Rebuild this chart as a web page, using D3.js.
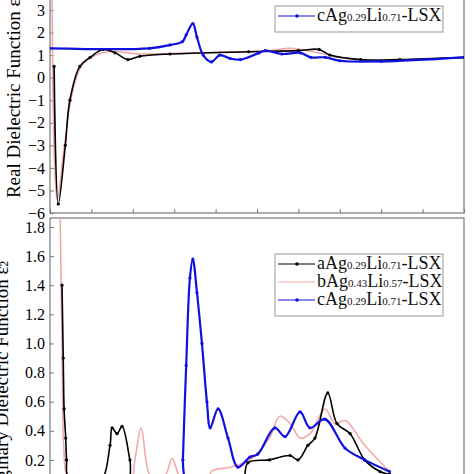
<!DOCTYPE html>
<html><head><meta charset="utf-8">
<script src="https://cdn.jsdelivr.net/npm/d3@7"></script>
<style>body{margin:0;background:#fff}text{font-family:"Liberation Serif",serif}</style>
</head><body>
<script>
// energy axis (no labels visible), 0..10
var xTicks = [0,1,2,3,4,5,6,7,8,9,10];
var realTicks = [-6,-5,-4,-3,-2,-1,0,1,2,3];
var imagTicks = [0.2,0.4,0.6,0.8,1.0,1.2,1.4,1.6,1.8];

// real part
var realA = [[0.1,0.5],[0.2,-5.6],[0.37,-3],[0.48,-1],[0.72,0.5],[0.97,0.9],[1.28,1.25],[1.57,1.1],[1.88,0.8],[2.17,0.95],[2.9,1.05],[4.8,1.15],[6.0,1.2],[6.5,1.25],[6.76,1.0],[7.5,0.8],[8.45,0.8],[10,0.9]];
var realB = [[0.05,3.5],[0.17,-5.4],[0.35,-3],[0.5,-1],[0.75,0.5],[1.0,0.9],[1.4,1.15],[2.2,1.05],[3.5,1.1],[5.3,1.2],[5.8,1.3],[6.5,1.1],[7.0,0.9],[7.5,0.8],[8.0,0.7],[8.7,0.8],[10,0.9]];
var realC = [[0,1.3],[2.4,1.3],[2.9,1.45],[3.2,1.6],[3.29,1.9],[3.45,2.4],[3.55,1.8],[3.7,1.0],[3.9,0.7],[4.1,1.0],[4.35,0.85],[4.6,0.8],[5.05,1.1],[5.2,1.2],[5.6,1.05],[6.05,1.1],[6.3,0.9],[6.65,0.9],[7.0,0.75],[8.0,0.72],[10,0.9]];

// imaginary part
var imagA = [[0.29,1.4],[0.32,0.9],[0.34,0.55],[0.38,0.35],[0.4,0.2],[0.45,0.08],[1.2,0.05],[1.45,0.3],[1.5,0.42],[1.62,0.38],[1.74,0.43],[1.93,0.2],[2.05,0.0],[4.6,0.0],[4.78,0.18],[5.3,0.2],[5.8,0.23],[5.99,0.2],[6.23,0.3],[6.4,0.35],[6.71,0.66],[6.93,0.45],[7.25,0.38],[7.6,0.2],[7.97,0.12],[8.2,0.1]];
var imagB = [[0.24,2.0],[0.29,1.0],[0.33,0.3],[0.4,0.1],[0.6,0.02],[1.9,0.02],[2.05,0.2],[2.2,0.42],[2.4,0.1],[2.6,0.05],[2.8,0.1],[2.95,0.21],[3.1,0.1],[3.3,0.0],[3.8,0.0],[3.9,0.12],[4.35,0.15],[4.83,0.2],[5.3,0.35],[5.55,0.5],[5.8,0.45],[6.04,0.35],[6.28,0.38],[6.64,0.55],[6.88,0.45],[7.13,0.47],[7.6,0.3],[8.2,0.12]];
var imagC = [[2.8,0.0],[3.2,0.0],[3.21,0.2],[3.29,0.85],[3.38,1.45],[3.45,1.58],[3.55,1.35],[3.67,1.0],[3.79,0.6],[3.87,0.42],[4.06,0.55],[4.3,0.35],[4.54,0.15],[4.83,0.22],[5.02,0.24],[5.43,0.42],[5.68,0.36],[6.04,0.53],[6.28,0.42],[6.64,0.48],[7.13,0.28],[7.6,0.2],[8.2,0.12]];

var series = [
  {name:"aAg", s1:"0.29", m:"Li", s2:"0.71", color:"#000", dots:true},
  {name:"bAg", s1:"0.43", m:"Li", s2:"0.57", color:"#f4a9a9", dots:false},
  {name:"cAg", s1:"0.29", m:"Li", s2:"0.71", color:"#1010e0", dots:true}
];

var W = 474, H = 474;
var svg = d3.select("body").append("svg").attr("width", W).attr("height", H);
var left = 50, right = 464;
var x = d3.scaleLinear().domain([0,10]).range([left, right]);
var yR = d3.scaleLinear().domain([-6,3]).range([213, 10]);
var yI = d3.scaleLinear().domain([0,1.8]).range([489, 227]);

function panel(y, top, bottom, ticks, fmt, datas, legendY, showAll) {
  var g = svg.append("g");
  var clipId = "c" + top;
  svg.append("clipPath").attr("id", clipId).append("rect")
     .attr("x", left).attr("y", top).attr("width", right-left).attr("height", bottom-top);
  g.append("rect").attr("x", left).attr("y", top).attr("width", right-left).attr("height", bottom-top)
   .attr("fill", "none").attr("stroke", "#777").attr("stroke-width", 1.2);
  g.append("g").attr("transform", "translate(" + left + ",0)")
   .call(d3.axisLeft(y).tickValues(ticks).tickFormat(fmt).tickSize(-4))
   .call(function(a){ a.select(".domain").remove(); a.selectAll("text").attr("x", -5).style("font-size","16px"); a.selectAll("line").attr("stroke","#777"); });
  g.append("g").attr("transform", "translate(0," + bottom + ")")
   .call(d3.axisBottom(x).tickValues(xTicks).tickFormat("").tickSize(-4))
   .call(function(a){ a.select(".domain").remove(); a.selectAll("line").attr("stroke","#777"); });
  var line2 = d3.line().curve(d3.curveCatmullRom).x(function(d){return x(d[0]);}).y(function(d){return y(d[1]);});
  var cg = g.append("g").attr("clip-path", "url(#" + clipId + ")");
  [1,0,2].forEach(function(i){
    var d = datas[i], s = series[i];
    cg.append("path").attr("d", line2(d)).attr("fill","none").attr("stroke", s.color)
      .attr("stroke-width", i==2 ? 2.2 : 1.6);
    if (s.dots) cg.selectAll(null).data(d).enter().append("circle")
      .attr("cx", function(p){return x(p[0]);}).attr("cy", function(p){return y(p[1]);})
      .attr("r", 1.6).attr("fill", s.color);
  });
  // legend
  var items = showAll ? series : [series[2]];
  var lx = 275, lw = 168, lh = 18 * items.length + 8;
  g.append("rect").attr("x", lx).attr("y", legendY).attr("width", lw).attr("height", lh)
   .attr("fill", "#fff").attr("stroke", "#999");
  items.forEach(function(s, k){
    var yy = legendY + 14 + k*18;
    g.append("line").attr("x1", lx+3).attr("x2", lx+40).attr("y1", yy-4).attr("y2", yy-4)
     .attr("stroke", s.color).attr("stroke-width", 1);
    if (s.dots) g.append("circle").attr("cx", lx+22).attr("cy", yy-4).attr("r", 1.8).attr("fill", s.color);
    var t = g.append("text").attr("x", lx+42).attr("y", yy+1).style("font-size", "18px").attr("fill","#111");
    t.append("tspan").text(s.name);
    t.append("tspan").style("font-size","11px").text(s.s1);
    t.append("tspan").text(s.m);
    t.append("tspan").style("font-size","11px").text(s.s2);
    t.append("tspan").text("-LSX");
  });
}

panel(yR, -5, 213, realTicks, d3.format("d"), [realA, realB, realC], 6, false);
panel(yI, 218, 480, imagTicks, d3.format(".1f"), [imagA, imagB, imagC], 254, true);

svg.append("text").attr("transform", "translate(20,95) rotate(-90)").attr("text-anchor","middle")
   .style("font-size","19px").text("Real Dielectric Function ε\u2081");
var yt = svg.append("text").attr("transform", "translate(8,385) rotate(-90)").attr("text-anchor","middle")
   .style("font-size","19px");
yt.append("tspan").text("Imaginary Dielectric Function ε");
yt.append("tspan").style("font-size","12px").text("2");
</script>
</body></html>
